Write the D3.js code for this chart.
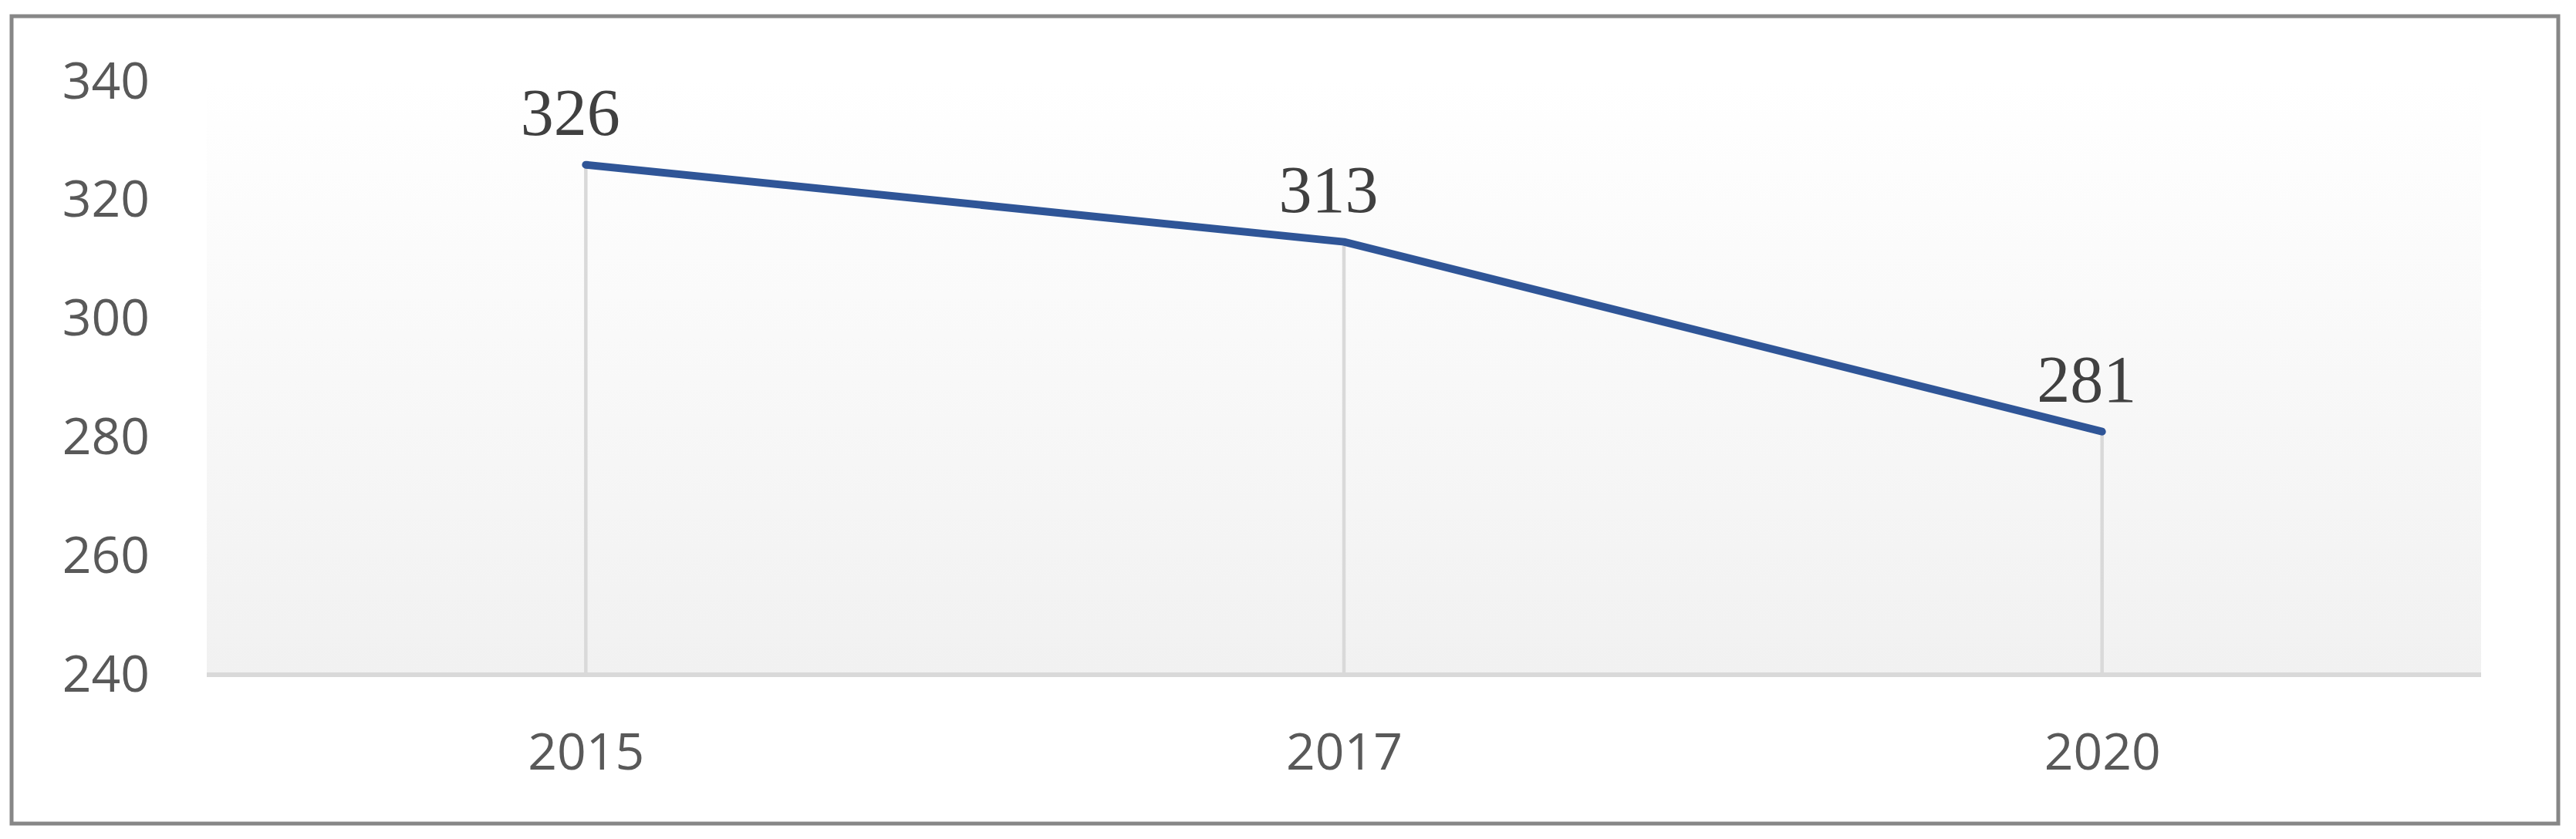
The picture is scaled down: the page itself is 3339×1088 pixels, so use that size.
<!DOCTYPE html>
<meta charset="utf-8">
<style>
  body { margin: 0; background: #fff; }
</style>
<svg width="3339" height="1088"></svg>
<script src="https://d3js.org/d3.v7.min.js"></script>
<script>

var years = ["2015", "2017", "2020"];
var values = [326, 313, 281];
var yTicks = [240, 260, 280, 300, 320, 340];

var svg = d3.select("svg"),
    margin = {top: 106, right: 123, bottom: 213, left: 268},
    width = +svg.attr("width") - margin.left - margin.right,
    height = +svg.attr("height") - margin.top - margin.bottom;

// outer frame
svg.append("rect")
    .attr("x", 15).attr("y", 21)
    .attr("width", 3301).attr("height", 1047)
    .attr("fill", "#fff")
    .attr("stroke", "#878787")
    .attr("stroke-width", 5);

var defs = svg.append("defs");
var grad = defs.append("linearGradient")
    .attr("id", "bg").attr("x1", 0).attr("y1", 0).attr("x2", 0).attr("y2", 1);
grad.append("stop").attr("offset", "0%").attr("stop-color", "#ffffff");
grad.append("stop").attr("offset", "100%").attr("stop-color", "#f1f1f1");

var g = svg.append("g")
    .attr("transform", "translate(" + margin.left + "," + margin.top + ")");

var x = d3.scalePoint()
    .domain(years)
    .range([0, width])
    .padding(0.5);

var y = d3.scaleLinear()
    .domain([240, 340])
    .range([height, 0]);

g.append("rect")
    .attr("width", width)
    .attr("height", height)
    .attr("fill", "url(#bg)");

// drop lines
g.selectAll(".drop")
  .data(values)
  .enter().append("line")
    .attr("class", "drop")
    .attr("x1", function(d, i) { return x(years[i]); })
    .attr("x2", function(d, i) { return x(years[i]); })
    .attr("y1", function(d) { return y(d); })
    .attr("y2", height)
    .attr("stroke", "#d9d9d9")
    .attr("stroke-width", 4.5);

// baseline
g.append("line")
    .attr("x1", 0).attr("x2", width)
    .attr("y1", height).attr("y2", height)
    .attr("stroke", "#d9d9d9")
    .attr("stroke-width", 6);

// y axis labels
var yAxis = g.append("g")
    .call(d3.axisLeft(y).tickValues(yTicks).tickSize(0).tickPadding(74));
yAxis.select(".domain").remove();
yAxis.selectAll("text")
    .attr("fill", "#595959")
    .style("font-family", "'Open Sans', sans-serif")
    .style("font-size", "66px");

// x axis labels
var xAxis = g.append("g")
    .attr("transform", "translate(0," + height + ")")
    .call(d3.axisBottom(x).tickSize(0).tickPadding(76));
xAxis.select(".domain").remove();
xAxis.selectAll("text")
    .attr("fill", "#595959")
    .style("font-family", "'Open Sans', sans-serif")
    .style("font-size", "66px");

var line = d3.line()
    .x(function(d, i) { return x(years[i]); })
    .y(function(d) { return y(d); });

g.append("path")
    .datum(values)
    .attr("d", line)
    .attr("fill", "none")
    .attr("stroke", "#2f5597")
    .attr("stroke-width", 10)
    .attr("stroke-linecap", "round")
    .attr("stroke-linejoin", "round");

// value labels, sitting a bit left of each point like the original
g.selectAll(".lbl")
  .data(values)
  .enter().append("text")
    .attr("class", "lbl")
    .attr("x", function(d, i) { return x(years[i]) - 20; })
    .attr("y", function(d) { return y(d) - 39; })
    .attr("text-anchor", "middle")
    .attr("fill", "#404040")
    .style("font-family", "'Liberation Serif', 'Times New Roman', serif")
    .style("font-size", "86px")
    .text(function(d) { return d; });

</script>
